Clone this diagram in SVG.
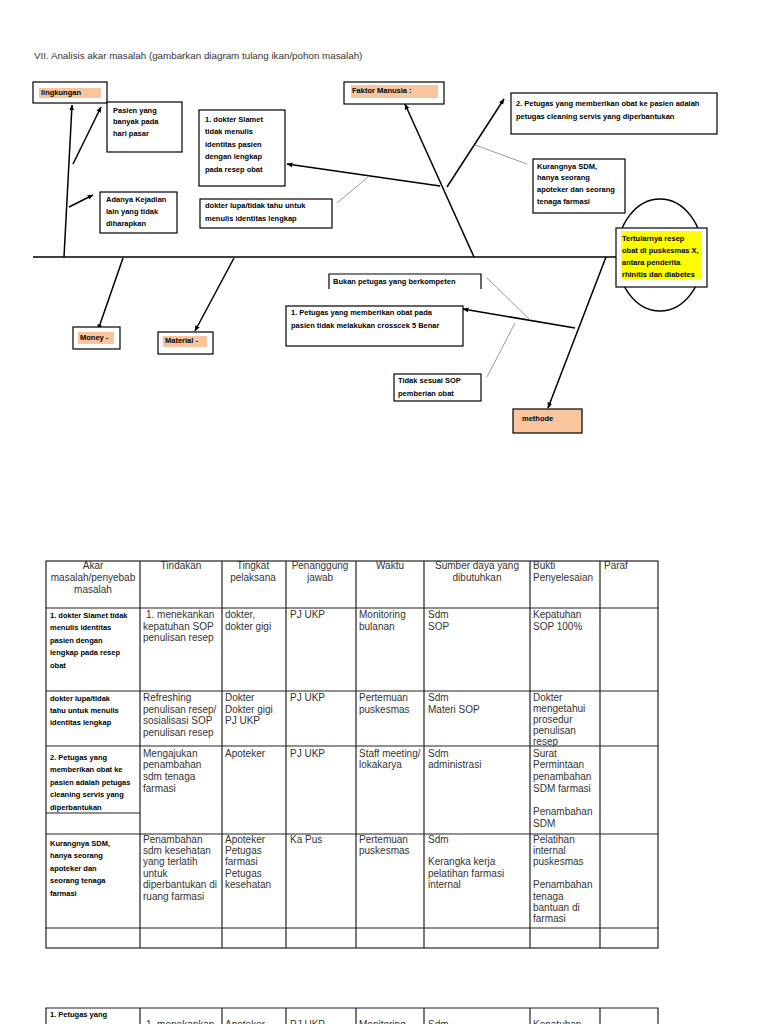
<svg xmlns="http://www.w3.org/2000/svg" width="768" height="1024" viewBox="0 0 768 1024">
<defs>
<marker id="ah" viewBox="0 0 10 10" refX="9" refY="5" markerWidth="6" markerHeight="6" markerUnits="userSpaceOnUse" orient="auto"><path d="M0,1 L10,5 L0,9 z" fill="#000"/></marker>
</defs>
<style>
.box{fill:#fff;stroke:#000;stroke-width:1.2}
.org{fill:#F9C59C}
.b{font-family:"Liberation Sans",Arial,sans-serif;font-weight:bold;font-size:7.5px;fill:#000}
.t{font-family:"Liberation Sans",Arial,sans-serif;font-size:10px;fill:#333}
.c{text-anchor:middle}
.bone{stroke:#000;stroke-width:1.5;fill:none}
.arr{marker-end:url(#ah)}
.gray{stroke:#9a9a9a;stroke-width:1;fill:none}
.grid{stroke:#222;stroke-width:1.2;fill:none}
</style>
<rect x="0" y="0" width="768" height="1024" fill="#fff"/>
<text class="t" x="34" y="58.5" style="font-size:9.8px">VII. Analisis akar masalah (gambarkan diagram tulang ikan/pohon masalah)</text>

<g id="connectors">
<path class="bone" d="M33,257 H616"/>
<path class="bone arr" d="M64,257 L72,105"/>
<path class="bone arr" d="M73,164 L101,107"/>
<path class="bone arr" d="M69,207 L93,195"/>
<path class="bone arr" d="M474,257 L405,104"/>
<path class="bone arr" d="M447,187 L504,99"/>
<path class="bone arr" d="M440,186 L287,164"/>
<path class="gray" d="M337,203 L368,177"/>
<path class="gray" d="M475,145 L527,164"/>
<path class="bone arr" d="M123,258 L98,330"/>
<path class="bone arr" d="M234,258 L195,331"/>
<path class="bone arr" d="M606,257 L548,408"/>
<path class="bone arr" d="M575,328 L463,309"/>
<path class="gray" d="M487,278 L530,320"/>
<path class="gray" d="M515,323 L487,377"/>
</g>

<g id="lingkungan">
<rect class="box" x="33" y="82" width="74" height="21"/>
<rect class="org" x="39" y="88" width="62" height="10"/>
<text class="b" x="41" y="94.5">lingkungan</text>
</g>
<g id="pasien-pasar">
<rect class="box" x="107" y="102" width="75" height="50"/>
<text class="b" x="113" y="112.5"><tspan x="113">Pasien yang</tspan><tspan x="113" dy="11.7">banyak pada</tspan><tspan x="113" dy="11.7">hari pasar</tspan></text>
</g>
<g id="dokter-slamet">
<rect class="box" x="199" y="110" width="86" height="76"/>
<text class="b" x="205" y="122"><tspan x="205">1. dokter Slamet</tspan><tspan x="205" dy="12.4">tidak menulis</tspan><tspan x="205" dy="12.4">identitas pasien</tspan><tspan x="205" dy="12.4">dengan lengkap</tspan><tspan x="205" dy="12.4">pada resep obat</tspan></text>
</g>
<g id="dokter-lupa">
<rect class="box" x="200" y="199" width="132" height="29"/>
<text class="b" x="205" y="208"><tspan x="205">dokter lupa/tidak tahu untuk</tspan><tspan x="205" dy="12.6">menulis identitas lengkap</tspan></text>
</g>
<g id="kejadian">
<rect class="box" x="100" y="192" width="77" height="41"/>
<text class="b" x="106" y="202"><tspan x="106">Adanya Kejadian</tspan><tspan x="106" dy="12.2">lain yang tidak</tspan><tspan x="106" dy="12.2">diharapkan</tspan></text>
</g>
<g id="faktor-manusia">
<rect class="box" x="344" y="82" width="100" height="22"/>
<rect class="org" x="351" y="85" width="87" height="13"/>
<text class="b" x="352" y="93">Faktor Manusia :</text>
</g>
<g id="petugas-cleaning">
<rect class="box" x="511" y="93" width="206" height="41"/>
<text class="b" x="516" y="106"><tspan x="516">2. Petugas yang memberikan obat ke pasien adalah</tspan><tspan x="516" dy="12.6">petugas cleaning servis yang diperbantukan</tspan></text>
</g>
<g id="kurang-sdm">
<rect class="box" x="533" y="159" width="92" height="54"/>
<text class="b" x="537" y="168.5"><tspan x="537">Kurangnya SDM,</tspan><tspan x="537" dy="11.8">hanya seorang</tspan><tspan x="537" dy="11.8">apoteker dan seorang</tspan><tspan x="537" dy="11.8">tenaga farmasi</tspan></text>
</g>
<g id="masalah">
<ellipse cx="660" cy="255" rx="43" ry="56" fill="none" stroke="#000" stroke-width="1.5"/>
<rect class="box" x="616" y="228" width="91" height="59"/>
<rect x="621" y="231" width="81" height="48" fill="#FFFF00"/>
<text class="b" x="622" y="240.5"><tspan x="622">Tertularnya resep</tspan><tspan x="622" dy="12">obat di puskesmas X,</tspan><tspan x="622" dy="12">antara penderita</tspan><tspan x="622" dy="12">rhinitis dan diabetes</tspan></text>
</g>
<g id="bukan-kompeten">
<path d="M329,289 V274 H481 V289" fill="#fff" stroke="#000" stroke-width="1.2"/>
<text class="b" x="333" y="284">Bukan petugas yang berkompeten</text>
</g>
<g id="petugas-crosscek">
<rect class="box" x="286" y="306" width="177" height="40"/>
<text class="b" x="291" y="315"><tspan x="291">1. Petugas yang memberikan obat pada</tspan><tspan x="291" dy="12.6">pasien tidak melakukan crosscek 5 Benar</tspan></text>
</g>
<g id="tidak-sop">
<rect class="box" x="394" y="374" width="87" height="27"/>
<text class="b" x="398" y="382.5"><tspan x="398">Tidak sesuai SOP</tspan><tspan x="398" dy="13.3">pemberian obat</tspan></text>
</g>
<g id="methode">
<rect x="513" y="409" width="69" height="24" fill="#F9C59C" stroke="#000" stroke-width="1.2"/>
<text class="b" x="522" y="420.5">methode</text>
</g>
<g id="money">
<rect class="box" x="73" y="327" width="47" height="22"/>
<rect class="org" x="78" y="332" width="36" height="12"/>
<text class="b" x="80" y="340">Money -</text>
</g>
<g id="material">
<rect class="box" x="158" y="332" width="55" height="22"/>
<rect class="org" x="163" y="336" width="44" height="11"/>
<text class="b" x="165" y="343">Material -</text>
</g>

<g id="table1">
<rect class="grid" x="46" y="561" width="612" height="387"/>
<path class="grid" d="M140,561 V948 M222,561 V948 M286,561 V948 M356,561 V948 M424,561 V948 M530,561 V948 M600,561 V948 M46,608 H658 M46,691 H658 M46,746 H658 M46,834 H658 M46,928 H658 M46,813 H140"/>
<text class="t c" x="93" y="569"><tspan x="93">Akar</tspan><tspan x="93" dy="12">masalah/penyebab</tspan><tspan x="93" dy="12">masalah</tspan></text>
<text class="t c" x="181" y="569">Tindakan</text>
<text class="t c" x="253" y="569"><tspan x="253">Tingkat</tspan><tspan x="253" dy="12">pelaksana</tspan></text>
<text class="t c" x="320" y="569"><tspan x="320">Penanggung</tspan><tspan x="320" dy="12">jawab</tspan></text>
<text class="t c" x="390" y="569">Waktu</text>
<text class="t c" x="477" y="569"><tspan x="477">Sumber daya yang</tspan><tspan x="477" dy="12">dibutuhkan</tspan></text>
<text class="t" x="533" y="569"><tspan x="533">Bukti</tspan><tspan x="533" dy="12">Penyelesaian</tspan></text>
<text class="t" x="604" y="569">Paraf</text>

<text class="b" x="50" y="617.5"><tspan x="50">1. dokter Slamet tidak</tspan><tspan x="50" dy="12.6">menulis identitas</tspan><tspan x="50" dy="12.6">pasien dengan</tspan><tspan x="50" dy="12.6">lengkap pada resep</tspan><tspan x="50" dy="12.6">obat</tspan></text>
<text class="t" x="146" y="618"><tspan x="146">1. menekankan</tspan><tspan x="143" dy="11.5">kepatuhan SOP</tspan><tspan x="143" dy="11.5">penulisan resep</tspan></text>
<text class="t" x="225" y="618"><tspan x="225">dokter,</tspan><tspan x="225" dy="11.5">dokter gigi</tspan></text>
<text class="t" x="290" y="618">PJ UKP</text>
<text class="t" x="359" y="618"><tspan x="359">Monitoring</tspan><tspan x="359" dy="11.5">bulanan</tspan></text>
<text class="t" x="428" y="618"><tspan x="428">Sdm</tspan><tspan x="428" dy="11.5">SOP</tspan></text>
<text class="t" x="533" y="618"><tspan x="533">Kepatuhan</tspan><tspan x="533" dy="11.5">SOP 100%</tspan></text>

<text class="b" x="50" y="700.5"><tspan x="50">dokter lupa/tidak</tspan><tspan x="50" dy="12.4">tahu untuk menulis</tspan><tspan x="50" dy="12.4">identitas lengkap</tspan></text>
<text class="t" x="143" y="701"><tspan x="143">Refreshing</tspan><tspan x="143" dy="11.6">penulisan resep/</tspan><tspan x="143" dy="11.6">sosialisasi SOP</tspan><tspan x="143" dy="11.6">penulisan  resep</tspan></text>
<text class="t" x="225" y="701"><tspan x="225">Dokter</tspan><tspan x="225" dy="11.6">Dokter gigi</tspan><tspan x="225" dy="11.6">PJ UKP</tspan></text>
<text class="t" x="290" y="701">PJ UKP</text>
<text class="t" x="359" y="701"><tspan x="359">Pertemuan</tspan><tspan x="359" dy="11.6">puskesmas</tspan></text>
<text class="t" x="428" y="701"><tspan x="428">Sdm</tspan><tspan x="428" dy="11.6">Materi SOP</tspan></text>
<text class="t" x="533" y="700.5"><tspan x="533">Dokter</tspan><tspan x="533" dy="11.2">mengetahui</tspan><tspan x="533" dy="11.2">prosedur</tspan><tspan x="533" dy="11.2">penulisan</tspan><tspan x="533" dy="11.2">resep</tspan></text>

<text class="b" x="50" y="759.5"><tspan x="50">2. Petugas yang</tspan><tspan x="50" dy="12.5">memberikan obat ke</tspan><tspan x="50" dy="12.5">pasien adalah petugas</tspan><tspan x="50" dy="12.5">cleaning servis yang</tspan><tspan x="50" dy="12.5">diperbantukan</tspan></text>
<text class="t" x="143" y="756.5"><tspan x="143">Mengajukan</tspan><tspan x="143" dy="11.7">penambahan</tspan><tspan x="143" dy="11.7">sdm tenaga</tspan><tspan x="143" dy="11.7">farmasi</tspan></text>
<text class="t" x="225" y="756.5">Apoteker</text>
<text class="t" x="290" y="756.5">PJ UKP</text>
<text class="t" x="359" y="756.5"><tspan x="359">Staff meeting/</tspan><tspan x="359" dy="11.7">lokakarya</tspan></text>
<text class="t" x="428" y="756.5"><tspan x="428">Sdm</tspan><tspan x="428" dy="11.7">administrasi</tspan></text>
<text class="t" x="533" y="756.5"><tspan x="533">Surat</tspan><tspan x="533" dy="11.7">Permintaan</tspan><tspan x="533" dy="11.7">penambahan</tspan><tspan x="533" dy="11.7">SDM farmasi</tspan><tspan x="533" dy="23.4">Penambahan</tspan><tspan x="533" dy="11.7">SDM</tspan></text>

<text class="b" x="50" y="845.5"><tspan x="50">Kurangnya SDM,</tspan><tspan x="50" dy="12.5">hanya seorang</tspan><tspan x="50" dy="12.5">apoteker dan</tspan><tspan x="50" dy="12.5">seorang tenaga</tspan><tspan x="50" dy="12.5">farmasi</tspan></text>
<text class="t" x="143" y="842.5"><tspan x="143">Penambahan</tspan><tspan x="143" dy="11.4">sdm kesehatan</tspan><tspan x="143" dy="11.4">yang terlatih</tspan><tspan x="143" dy="11.4">untuk</tspan><tspan x="143" dy="11.4">diperbantukan di</tspan><tspan x="143" dy="11.4">ruang farmasi</tspan></text>
<text class="t" x="225" y="842.5"><tspan x="225">Apoteker</tspan><tspan x="225" dy="11.4">Petugas</tspan><tspan x="225" dy="11.4">farmasi</tspan><tspan x="225" dy="11.4">Petugas</tspan><tspan x="225" dy="11.4">kesehatan</tspan></text>
<text class="t" x="290" y="842.5">Ka Pus</text>
<text class="t" x="359" y="842.5"><tspan x="359">Pertemuan</tspan><tspan x="359" dy="11.4">puskesmas</tspan></text>
<text class="t" x="428" y="842.5"><tspan x="428">Sdm</tspan><tspan x="428" dy="22.8">Kerangka kerja</tspan><tspan x="428" dy="11.4">pelatihan farmasi</tspan><tspan x="428" dy="11.4">internal</tspan></text>
<text class="t" x="533" y="842.5"><tspan x="533">Pelatihan</tspan><tspan x="533" dy="11.4">internal</tspan><tspan x="533" dy="11.4">puskesmas</tspan><tspan x="533" dy="22.8">Penambahan</tspan><tspan x="533" dy="11.4">tenaga</tspan><tspan x="533" dy="11.4">bantuan di</tspan><tspan x="533" dy="11.4">farmasi</tspan></text>
</g>

<g id="table2">
<path class="grid" d="M46,1030 V1008 H658 V1030 M140,1008 V1030 M222,1008 V1030 M286,1008 V1030 M356,1008 V1030 M424,1008 V1030 M530,1008 V1030 M600,1008 V1030"/>
<text class="b" x="50" y="1017"><tspan x="50">1. Petugas yang</tspan><tspan x="50" dy="12.5">memberikan obat ke</tspan></text>
<text class="t" x="146" y="1027.5">1. menekankan</text>
<text class="t" x="225" y="1027.5">Apoteker</text>
<text class="t" x="290" y="1027.5">PJ UKP</text>
<text class="t" x="359" y="1027.5">Monitoring</text>
<text class="t" x="428" y="1027.5">Sdm</text>
<text class="t" x="533" y="1027.5">Kepatuhan</text>
</g>
</svg>
